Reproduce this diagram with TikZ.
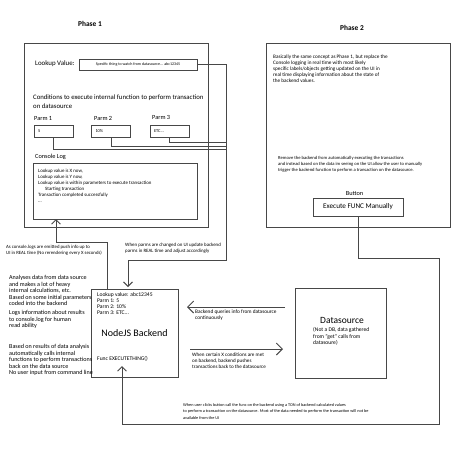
\documentclass[tikz,border=0pt]{standalone}
\usepackage{fontspec}
\setmainfont{Carlito}
\usetikzlibrary{arrows.meta}

\begin{document}
\begin{tikzpicture}[x=1pt,y=-1pt]
  \tikzset{BoxStyle/.style = {
    shape         = rectangle,
    draw          = black!72,
    fill          = white,
    line width    = 0.9pt,
    text          = black,
    inner sep     = 0pt,
    outer sep     = 0pt
    }
  }
  \tikzset{FieldStyle/.style = {
    BoxStyle,
    minimum height = 12pt,
    inner xsep     = 4pt,
    text width     = 31pt,
    align          = left,
    font           = \fontsize{4.4}{5}\selectfont
    }
  }
  \tikzset{TitleStyle/.style = {
    font          = \bfseries\fontsize{7.4}{9}\selectfont,
    inner sep     = 0pt
    }
  }
  \tikzset{LabelStyle/.style = {
    font          = \fontsize{6.3}{9}\selectfont,
    anchor        = west,
    align         = left,
    inner sep     = 0pt
    }
  }
  \tikzset{NoteStyle/.style = {
    font          = \fontsize{4.8}{6}\selectfont,
    anchor        = north west,
    align         = left,
    inner sep     = 0pt
    }
  }
  \tikzset{SideStyle/.style = {
    font          = \fontsize{6.1}{6.6}\selectfont,
    anchor        = north west,
    align         = left,
    inner sep     = 0pt
    }
  }
  \tikzset{LineStyle/.style = {
    draw          = black!72,
    line width    = 0.9pt
    }
  }
  \tikzset{ArrowStyle/.style = {
    LineStyle,
    -{Straight Barb[length=4.5pt,width=9pt]}
    }
  }
  \tikzset{BigArrowStyle/.style = {
    LineStyle,
    -{Straight Barb[length=6pt,width=12pt]}
    }
  }

  \useasboundingbox (0,0) rectangle (474,474);

  % phase 1
  \node[TitleStyle](P1Title) at (90,24) {Phase 1};
  \node[BoxStyle, minimum width=184pt, minimum height=184pt](PhaseOne) at (116,135) {};
  \node[LabelStyle, font=\fontsize{6.9}{9}\selectfont](LookupLabel) at (35,64) {Lookup Value:};
  \node[BoxStyle, minimum width=118pt, minimum height=11pt,
        font=\fontsize{4.0}{5}\selectfont](LookupBox) at (138,64.5)
        {Specific thing to watch from datasource... abc12345};
  \node[LabelStyle, anchor=north west, font=\fontsize{6.75}{9}\selectfont](CondText) at (33,94.5)
        {Conditions to execute internal function to perform transaction\\on datasource};
  \node[LabelStyle](ParmOneLabel) at (34,118) {Parm 1};
  \node[LabelStyle](ParmTwoLabel) at (94,118) {Parm 2};
  \node[LabelStyle](ParmThreeLabel) at (152,117) {Parm 3};
  \node[FieldStyle](ParmOne) at (53.5,131) {5};
  \node[FieldStyle](ParmTwo) at (111,131) {10\%};
  \node[FieldStyle](ParmThree) at (169.5,131) {ETC...};
  \node[LabelStyle](LogLabel) at (35,157) {Console Log};
  \node[BoxStyle, minimum width=164pt, minimum height=56pt](ConsoleBox) at (115,191) {};
  \node[NoteStyle, font=\fontsize{4.9}{6}\selectfont](ConsoleText) at (38,168.5)
        {Lookup value is X now,\\
         Lookup value is Y now,\\
         Lookup value is within parameters to execute transaction\\
         \hspace*{7pt}Starting transaction\\
         Transaction completed successfully\\
         ...};

  % phase 2
  \node[TitleStyle](P2Title) at (352,28) {Phase 2};
  \node[BoxStyle, minimum width=184pt, minimum height=184pt](PhaseTwo) at (358,135) {};
  \node[NoteStyle, font=\fontsize{5.2}{6.1}\selectfont](SameText) at (273,54.5)
        {Basically the same concept as Phase 1, but replace the\\
         Console logging in real time with most likely\\
         specific labels/objects getting updated on the UI in\\
         real time displaying information about the state of\\
         the backend values.};
  \node[NoteStyle, font=\fontsize{4.6}{6}\selectfont](RemoveText) at (278,156.5)
        {Remove the backend from automatically executing the transactions\\
         and instead based on the data im seeing on the UI allow the user to manually\\
         trigger the backend function to perform a transaction on the datasource.};
  \node[LabelStyle, anchor=center](ButtonLabel) at (354.5,193.5) {Button};
  \node[BoxStyle, minimum width=90pt, minimum height=18pt,
        font=\fontsize{7.2}{9}\selectfont](ButtonBox) at (358,207) {Execute FUNC Manually};

  % backend
  \node[BoxStyle, minimum width=87pt, minimum height=88pt](NodeBox) at (134.5,333) {};
  \node[NoteStyle, font=\fontsize{5.6}{6}\selectfont](NodeValues) at (97,292)
        {Lookup value: abc12345\\
         Parm 1: 5\\
         Parm 2: 10\%\\
         Parm 3: ETC...};
  \node[font=\fontsize{10}{12}\selectfont, inner sep=0pt](NodeTitle) at (134.5,333.5) {NodeJS Backend};
  \node[NoteStyle, anchor=west, font=\fontsize{5.6}{6}\selectfont](FuncText) at (97,359) {Func EXECUTETHING()};

  % datasource
  \node[BoxStyle, minimum width=91pt, minimum height=90pt](DataBox) at (340.5,333) {};
  \node[font=\fontsize{9.5}{12}\selectfont, inner sep=0pt](DataTitle) at (342,320) {Datasource};
  \node[NoteStyle, font=\fontsize{5.6}{6.3}\selectfont](DataText) at (313,327.5)
        {(Not a DB, data gathered\\
         from "get" calls from\\
         datasoure)};

  % side notes
  \node[NoteStyle, font=\fontsize{4.8}{6.5}\selectfont](LogNote) at (6,244.5)
        {As console.logs are emitted push info up to\\
         UI in REAL time (No rerendering every X seconds)};
  \node[NoteStyle, font=\fontsize{4.9}{6}\selectfont](ParmNote) at (125,242.5)
        {When parms are changed on UI update backend\\
         parms in REAL time and adjust accordingly};
  \node[SideStyle](AnalysesText) at (9,275)
        {Analyses data from data source\\
         and makes a lot of heavy\\
         internal calculations, etc.\\
         Based on some initial parameters\\
         coded into the backend};
  \node[SideStyle](LogsText) at (9,310)
        {Logs information about results\\
         to console.log for human\\
         read ability};
  \node[SideStyle](ResultsText) at (9,344)
        {Based on results of data analysis\\
         automatically calls internal\\
         functions to perform transactions\\
         back on the data source\\
         No user input from command line};
  \node[NoteStyle, font=\fontsize{5.3}{6}\selectfont](QueryText) at (195,309.5)
        {Backend queries info from datasource\\
         continuously};
  \node[NoteStyle, font=\fontsize{5.1}{6}\selectfont](PushText) at (192,352.5)
        {When certain X conditions are met\\
         on backend, backend pushes\\
         transactions back to the datasource};
  \node[NoteStyle, font=\fontsize{4.25}{6.3}\selectfont](ClickText) at (183,403.5)
        {When user clicks button call the func on the backend using a TON of backend calculated values\\
         to perform a transaction on the datasource. Most of the data needed to perform the transaction will not be\\
         available from the UI};

  % connectors
  \coordinate (ParmBus) at (226,260);
  \coordinate (ParmIn) at (128,287);
  \coordinate (JoinOne) at (226,149);
  \coordinate (JoinTwo) at (226,146);
  \coordinate (JoinThree) at (226,142);
  \coordinate (LogFeed) at (107,242);
  \coordinate (LogTip) at (56,219);
  \coordinate (ManualTurn) at (439,258);
  \coordinate (ManualBack) at (122,424);
  \coordinate (FuncTip) at (122,366);
  \coordinate (QueryY) at (0,307);
  \coordinate (PushY) at (0,349);

  \draw[ArrowStyle](LookupBox.east) -| (ParmBus) -| (ParmIn);
  \draw[LineStyle](ParmOne.south) |- (JoinOne);
  \draw[LineStyle](ParmTwo.south) |- (JoinTwo);
  \draw[LineStyle](ParmThree.south) |- (JoinThree);
  \draw[ArrowStyle](LogFeed |- NodeBox.north) |- (LogTip |- LogFeed) -- (LogTip);
  \draw[ArrowStyle](ButtonBox.south) |- (ManualTurn) |- (ManualBack) -- (FuncTip);
  \draw[BigArrowStyle, shorten <=10pt, shorten >=9pt](DataBox.west |- QueryY) -- (NodeBox.east |- QueryY);
  \draw[BigArrowStyle, shorten <=12pt, shorten >=12pt](NodeBox.east |- PushY) -- (DataBox.west |- PushY);

\end{tikzpicture}
\end{document}
